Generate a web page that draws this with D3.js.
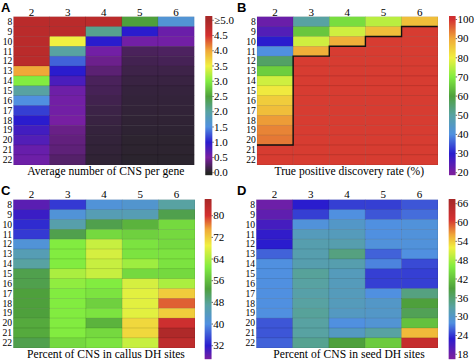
<!DOCTYPE html>
<html><head><meta charset="utf-8">
<script src="https://cdn.jsdelivr.net/npm/d3@7"></script>
<style>body{margin:0;background:#fff} svg{display:block}</style>
</head><body><svg id="c" width="474" height="360"></svg>
<script>
// ---------------- DATA ----------------
const windowSizes = ["2","3","4","5","6"];           // columns
const cnsLengths = ["8","9","10","11","12","13","14","15","16","17","18","19","20","21","22"]; // rows
// values listed per column (window size 2..6), rows 8..22
const avgCNS = [
  [4.8,4.8,4.8,4.8,4.8,4.0,3.0,2.0,1.5,1.15,1.0,0.85,0.75,0.62,0.58],
  [4.8,4.8,3.5,2.0,1.3,1.0,0.8,0.58,0.55,0.55,0.52,0.4,0.36,0.34,0.28],
  [4.8,2.1,1.0,0.55,0.42,0.32,0.22,0.2,0.17,0.14,0.12,0.1,0.09,0.08,0.07],
  [2.5,1.0,0.55,0.22,0.18,0.15,0.12,0.1,0.09,0.08,0.07,0.06,0.05,0.05,0.04],
  [1.6,0.6,0.55,0.24,0.2,0.15,0.12,0.1,0.09,0.08,0.07,0.06,0.05,0.05,0.04]
];
const truePositiveRate = [
  [22,25,30,40,56,66,77,81,85,87,91,93,94,99,99],
  [50,65,77,89,99,99,99,99,99,99,99,99,99,99,99],
  [68,77,89,99,99,99,99,99,99,99,99,99,99,99,99],
  [75,87,99,99,99,99,99,99,99,99,99,99,99,99,99],
  [87,99,99,99,99,99,99,99,99,99,99,99,99,99,99]
];
const pctCallusDH = [
  [29,31,33,34,41,45,47,52,52,53,53,53,54,54,52],
  [34,41,46,52,61,61,61,64,62,61,61,61,61,61,59],
  [41,45,52,59,66,67,66,66,61,60,58,60,55,59,60],
  [42,45,55,58,60,60,63,59,67,68,68,68,71,71,66],
  [47,52,59,59,59,60,60,59,64,72,78,72,81,85,83]
];
const pctSeedDH = [
  [18,19,21,22.5,23,26,28,28,28,28,28,28,25.5,25.5,26],
  [23,24.5,28.5,31,32,32,32,33.5,33,32.5,33,33.5,33,33,34],
  [24.5,28,30,31,32,35,32,31,31,31,31,30.5,28,30.5,39],
  [24.5,25.5,28,28,28.5,26,27.5,24.5,24.5,28,30,30,29,33,43],
  [25.5,26.5,28.5,28.5,28.5,28,25,24.5,24.5,35,39,37.5,42,55,63]
];
const ticksA = [0,0.5,1,1.5,2,2.5,3,3.5,4,4.5,5];
const ticksB = [20,30,40,50,60,70,80,90,100];
const ticksC = [32,40,48,56,64,72,80];
const ticksD = [18,24,30,36,42,48,54,60,66];
const titles = ["Average number of CNS per gene","True positive discovery rate (%)",
                "Percent of CNS in callus DH sites","Percent of CNS in seed DH sites"];
const letters = ["A","B","C","D"];

// ---------------- COLOURS ----------------
const ramp = ["#7a1fa0","#2a1cce","#5090e0","#58a2a2","#4ea03c","#82ec40","#f0f040","#f0a838","#d43030","#a82828"];
const rampA = ["#242424"].concat(ramp);
const stopsA = [0,0.5,1,1.5,2,2.5,3,3.5,4,4.5,5];
const stopsB = [20,30,40,50,60,70,80,90,100,110];
const stopsC = [27,32,40,47,53,61,69,75,80,86];
const stopsD = [17,23,28,33,39,46,52,56,61,67];

const svg = d3.select("#c");
const serif = "'Liberation Serif','Times New Roman',serif";

const panels = [
  {data:avgCNS, ticks:ticksA, fmt:d=>d===5?"\u22655.0":d3.format(".1f")(d), color:d3.scaleLinear().domain(stopsA).range(rampA).clamp(true),
   x:[13.5,194], y:[16.7,164.7], colLab:15.5, cbx:205.3, cbw:7, bar:[16.5,175], lab:[172.7,20.3], title:174.5, letter:[1,12]},
  {data:truePositiveRate, ticks:ticksB, fmt:d3.format("d"), color:d3.scaleLinear().domain(stopsB).range(ramp).clamp(true),
   x:[257,437.7], y:[16.7,164.7], colLab:15.5, cbx:449, cbw:6.6, bar:[16.5,175], lab:[172.7,19.5], title:174.5, letter:[237,12], line:95},
  {data:pctCallusDH, ticks:ticksC, fmt:d3.format("d"), color:d3.scaleLinear().domain(stopsC).range(ramp).clamp(true),
   x:[13.3,194.7], y:[199.7,347.7], colLab:197.5, cbx:204.7, cbw:6.8, bar:[199.7,359], lab:[345.7,215.7], title:357.5, letter:[1,195]},
  {data:pctSeedDH, ticks:ticksD, fmt:d3.format("d"), color:d3.scaleLinear().domain(stopsD).range(ramp).clamp(true),
   x:[256.3,437.7], y:[199.7,347.7], colLab:197.5, cbx:448.7, cbw:6.7, bar:[199.7,359], lab:[354.3,203.7], title:357.5, letter:[237,195]}
];

panels.forEach((p,pi)=>{
  const g = svg.append("g");
  const xs = d3.scaleBand().domain(windowSizes).range(p.x);
  const ys = d3.scaleBand().domain(cnsLengths).range(p.y);
  const cells = [];
  p.data.forEach((col,ci)=>col.forEach((v,ri)=>cells.push({c:windowSizes[ci], r:cnsLengths[ri], v})));
  g.selectAll("rect.cell").data(cells).join("rect")
    .attr("x",d=>xs(d.c)).attr("y",d=>ys(d.r))
    .attr("width",xs.bandwidth()+0.3).attr("height",ys.bandwidth()+0.3)
    .attr("fill",d=>p.color(d.v));
  // faint cell borders
  g.selectAll("rect.b").data(cells).join("rect")
    .attr("x",d=>xs(d.c)).attr("y",d=>ys(d.r))
    .attr("width",xs.bandwidth()).attr("height",ys.bandwidth())
    .attr("fill","none").attr("stroke","rgba(0,0,0,0.10)").attr("stroke-width",0.6);

  // threshold boundary line
  if(p.line){
    const bnd = p.data.map(col=>cnsLengths[col.findIndex(v=>v>=p.line)]);
    let path = "M"+xs(windowSizes[0])+","+ys(bnd[0]);
    windowSizes.forEach((c,i)=>{
      if(i>0) path += "V"+ys(bnd[i]);
      path += "H"+(xs(c)+xs.bandwidth());
    });
    g.append("path").attr("d",path).attr("fill","none").attr("stroke","#111").attr("stroke-width",1.4);
  }

  // column labels
  g.selectAll("text.col").data(windowSizes).join("text")
    .attr("x",d=>xs(d)+xs.bandwidth()/2).attr("y",p.colLab)
    .attr("text-anchor","middle").attr("font-family",serif).attr("font-size",11).text(d=>d);
  // row labels
  g.selectAll("text.row").data(cnsLengths).join("text")
    .attr("x",p.x[0]-1.2).attr("y",d=>ys(d)+ys.bandwidth()/2+3.3)
    .attr("text-anchor","end").attr("font-family",serif).attr("font-size",9.6).text(d=>d);
  // title
  g.append("text").attr("x",(p.x[0]+p.x[1])/2+2).attr("y",p.title)
    .attr("text-anchor","middle").attr("font-family",serif).attr("font-size",11.6).text(titles[pi]);
  // letter
  g.append("text").attr("x",p.letter[0]).attr("y",p.letter[1])
    .attr("font-family","'Liberation Sans',Arial,sans-serif").attr("font-weight","bold").attr("font-size",13).text(letters[pi]);

  // colour bar
  const ls = d3.scaleLinear().domain(d3.extent(p.ticks)).range(p.lab);
  const ypx = d3.range(Math.floor(p.bar[0]), Math.ceil(p.bar[1]), 1);
  g.selectAll("rect.cb").data(ypx).join("rect")
    .attr("x",p.cbx).attr("y",d=>d).attr("width",p.cbw).attr("height",1.2)
    .attr("fill",d=>p.color(ls.invert(d+0.5)));
  g.selectAll("line.tk").data(p.ticks).join("line")
    .attr("x1",p.cbx+p.cbw).attr("x2",p.cbx+p.cbw+1.5)
    .attr("y1",d=>ls(d)).attr("y2",d=>ls(d)).attr("stroke","#444").attr("stroke-width",0.8);
  g.selectAll("text.tk").data(p.ticks).join("text")
    .attr("x",p.cbx+p.cbw+1.8).attr("y",d=>ls(d)+3.7)
    .attr("font-family",serif).attr("font-size",11).text(p.fmt);
});
</script></body></html>
